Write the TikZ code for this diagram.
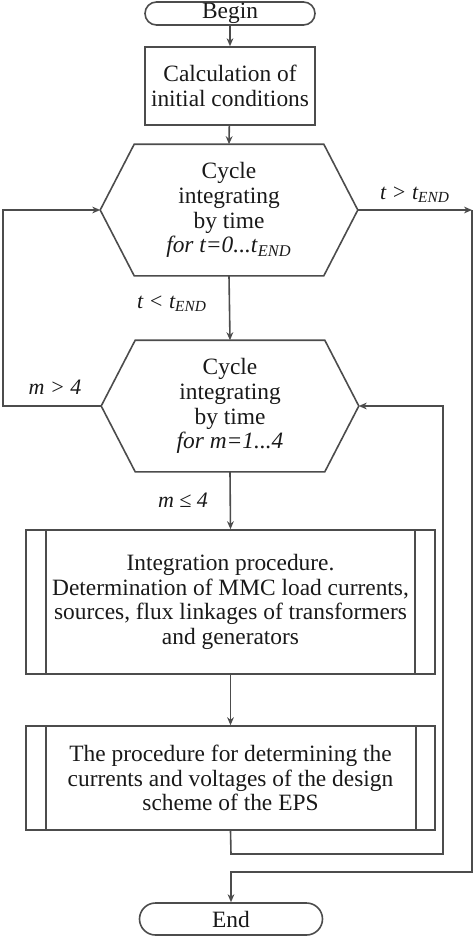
\documentclass[tikz,border=0pt]{standalone}
\usepackage{fontspec}
\setmainfont{Liberation Serif}
\usetikzlibrary{arrows.meta,calc,shapes.misc}
\newcommand{\tEnd}{\textit{t}\textsubscript{\textit{END}}}

\begin{document}
\begin{tikzpicture}[
  x=0.5pt, y=-0.5pt,
  font=\fontsize{11.7}{12.4}\selectfont,
  >={Stealth[length=4pt,width=3.4pt]},
  line width=0.8pt,
  termnode/.style={rounded rectangle, draw=black!70, text=black!90, inner sep=0pt},
  calcnode/.style={rectangle, draw=black!70, text=black!90, minimum width=85pt, minimum height=39pt, align=center, inner sep=0pt},
  cyclenode/.style={rectangle, text=black!90, minimum width=94pt, minimum height=65pt, align=center, inner sep=0pt},
  procnode/.style={rectangle, draw=black!70, text=black!90, minimum width=204.5pt, align=center, inner sep=0pt},
  flowline/.style={draw=black!70},
  condlabel/.style={text=black!90, font=\fontsize{11}{12}\selectfont\itshape}
]
  \useasboundingbox (0,0) rectangle (474,937);

  \node[termnode, minimum width=85pt, minimum height=11.5pt] (begin) at (230,13.5) {Begin};
  \node[calcnode] (calc) at (230,86) {Calculation of\\initial conditions};

  \node[cyclenode] (cyc1) at (229,210) {Cycle\\integrating\\by time\\\textit{for t=0...t}\textsubscript{\textit{END}}};
  \coordinate (cyc1w) at ($(cyc1.west)+(-34,0)$);
  \coordinate (cyc1e) at ($(cyc1.east)+(34,0)$);
  \draw[flowline] (cyc1.north west) -- (cyc1.north east) -- (cyc1e) -- (cyc1.south east)
    -- (cyc1.south west) -- (cyc1w) -- cycle;

  \node[cyclenode] (cyc2) at (230,406) {Cycle\\integrating\\by time\\\textit{for m=1...4}};
  \coordinate (cyc2w) at ($(cyc2.west)+(-34,0)$);
  \coordinate (cyc2e) at ($(cyc2.east)+(34,0)$);
  \draw[flowline] (cyc2.north west) -- (cyc2.north east) -- (cyc2e) -- (cyc2.south east)
    -- (cyc2.south west) -- (cyc2w) -- cycle;

  \node[procnode, minimum height=72pt] (proc1) at (230.5,602) {Integration procedure.\\Determination of MMC load currents,\\sources, flux linkages of transformers\\and generators};
  \draw[flowline] ($(proc1.north west)+(21,0)$) -- ($(proc1.south west)+(21,0)$);
  \draw[flowline] ($(proc1.north east)+(-21,0)$) -- ($(proc1.south east)+(-21,0)$);

  \node[procnode, minimum height=52pt] (proc2) at (230.5,778) {The procedure for determining the\\currents and voltages of the design\\scheme of the EPS};
  \draw[flowline] ($(proc2.north west)+(21,0)$) -- ($(proc2.south west)+(21,0)$);
  \draw[flowline] ($(proc2.north east)+(-20,0)$) -- ($(proc2.south east)+(-20,0)$);

  \node[termnode, minimum width=91.5pt, minimum height=16pt] (end) at (231,919) {End};

  \coordinate (rtop) at (472,210);
  \coordinate (rbot) at (472,872);
  \coordinate (ebot) at (231,872);
  \coordinate (ltop) at (3,210);
  \coordinate (lbot) at (3,406);
  \coordinate (pbot) at (231,854);
  \coordinate (pcor) at (443,854);
  \coordinate (ptop) at (443,406);

  \draw[flowline, ->] (begin) -- (calc);
  \draw[flowline, ->] (calc) -- (cyc1.north);
  \draw[flowline, ->] (cyc1e) -- (rtop);
  \draw[flowline, ->] (rtop) -- (rbot) -- (ebot) -- (end.north);
  \draw[flowline, ->] (cyc1.south) -- (cyc2.north);
  \draw[flowline, ->] (cyc2w) -- (lbot) -- (ltop) -- (cyc1w);
  \draw[flowline, ->] (cyc2.south) -- (proc1.north);
  \draw[flowline, ->] (proc1) -- (proc2);
  \draw[flowline, ->] (proc2.south) -- (pbot) -- (pcor) -- (ptop) -- (cyc2e);

  \node[condlabel] (lbgt) at (415,195) {t > \tEnd};
  \node[condlabel] (lblt) at (172,304) {t < \tEnd};
  \node[condlabel] (lbmgt) at (55,387) {m > 4};
  \node[condlabel] (lbmle) at (183,500) {m ≤ 4};
\end{tikzpicture}
\end{document}
